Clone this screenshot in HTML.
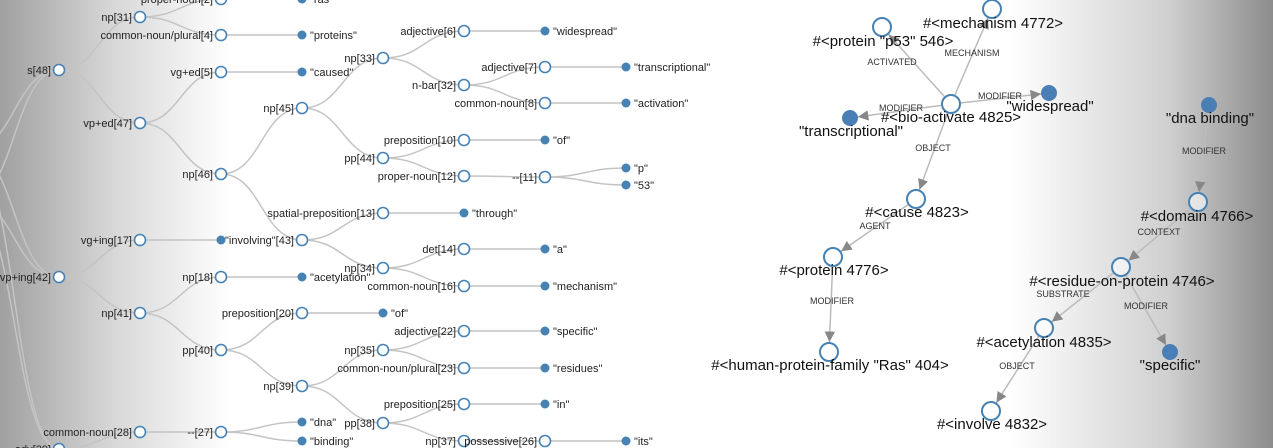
<!DOCTYPE html>
<html><head><meta charset="utf-8"><style>
html,body{margin:0;padding:0;width:1273px;height:448px;overflow:hidden;background:#fff}
svg{display:block}
text{font-family:"Liberation Sans",sans-serif;fill:#222}
.l{font-size:11px}
.b{font-size:15px;fill:#111}
.e{font-size:9px;fill:#333}
</style></head><body>
<svg id="s" width="1273" height="448" xmlns="http://www.w3.org/2000/svg">
<defs>
<linearGradient id="gl" x1="0" x2="1" y1="0" y2="0"><stop offset="0" stop-color="#a0a0a0"/><stop offset="0.5" stop-color="#d8d8d8"/><stop offset="1" stop-color="#fff"/></linearGradient>
<linearGradient id="gr" x1="0" x2="1" y1="0" y2="0"><stop offset="0" stop-color="#fff"/><stop offset="0.6" stop-color="#d0d0d0"/><stop offset="1" stop-color="#8c8c8c"/></linearGradient>
<marker id="ar" viewBox="0 0 10 10" refX="10" refY="5" markerWidth="7" markerHeight="7" orient="auto"><path d="M0,0L10,5L0,10z" fill="#888"/></marker>
</defs>
<rect x="0" y="0" width="230" height="448" fill="url(#gl)"/>
<rect x="1010" y="0" width="263" height="448" fill="url(#gr)"/>
<g id="t"></g>
<g id="g"></g>
</svg>
<script>
var NS="http://www.w3.org/2000/svg",t=document.getElementById('t'),g=document.getElementById('g');
function el(p,n,a,txt){var e=document.createElementNS(NS,n);for(var k in a)e.setAttribute(k,a[k]);if(txt!=null)e.textContent=txt;p.appendChild(e);return e;}
var N={
s48:[59,70,'s[48]'],np31:[140,17,'np[31]'],pn2:[221,-1,'proper-noun[2]'],cnp4:[221,35,'common-noun/plural[4]'],
vp47:[140,123,'vp+ed[47]'],vg5:[221,72,'vg+ed[5]'],np46:[221,174,'np[46]'],np45:[302,108,'np[45]'],inv43:[302,240,'"involving"[43]'],
np33:[383,58,'np[33]'],pp44:[383,158,'pp[44]'],adj6:[464,31,'adjective[6]'],nbar32:[464,85,'n-bar[32]'],adj7:[545,67,'adjective[7]'],cn8:[545,103,'common-noun[8]'],
prep10:[464,140,'preposition[10]'],pn12:[464,176,'proper-noun[12]'],d11:[545,177,'--[11]'],sp13:[383,213,'spatial-preposition[13]'],np34:[383,268,'np[34]'],
det14:[464,249,'det[14]'],cn16:[464,286,'common-noun[16]'],vp42:[59,277,'vp+ing[42]'],vg17:[140,240,'vg+ing[17]'],np41:[140,313,'np[41]'],np18:[221,277,'np[18]'],
pp40:[221,350,'pp[40]'],prep20:[302,313,'preposition[20]'],np39:[302,386,'np[39]'],np35:[383,350,'np[35]'],pp38:[383,423,'pp[38]'],adj22:[464,331,'adjective[22]'],
cnp23:[464,368,'common-noun/plural[23]'],prep25:[464,404,'preposition[25]'],np37:[464,441,'np[37]'],poss26:[545,441,'possessive[26]'],
cn28:[140,432,'common-noun[28]'],d27:[221,432,'--[27]'],x29:[59,449,'adv[29]']};
var L={ras:[302,-1,'"ras"'],proteins:[302,35,'"proteins"'],caused:[302,72,'"caused"'],wide:[545,31,'"widespread"'],trans:[626,67,'"transcriptional"'],act:[626,103,'"activation"'],
of1:[545,140,'"of"'],p:[626,168,'"p"'],f3:[626,185,'"53"'],thr:[464,213,'"through"'],a:[545,249,'"a"'],mech:[545,286,'"mechanism"'],invd:[221,240,''],
acet:[302,277,'"acetylation"'],of2:[383,313,'"of"'],spec:[545,331,'"specific"'],res:[545,368,'"residues"'],in_:[545,404,'"in"'],its:[626,441,'"its"'],dna:[302,422,'"dna"'],bind:[302,441,'"binding"']};
var E=[['s48','np31'],['s48','vp47'],['np31','pn2'],['np31','cnp4'],['pn2','ras'],['cnp4','proteins'],['vp47','vg5'],['vp47','np46'],['vg5','caused'],
['np46','np45'],['np46','inv43'],['np45','np33'],['np45','pp44'],['np33','adj6'],['np33','nbar32'],['adj6','wide'],['nbar32','adj7'],['nbar32','cn8'],['adj7','trans'],['cn8','act'],
['pp44','prep10'],['pp44','pn12'],['prep10','of1'],['pn12','d11'],['d11','p'],['d11','f3'],['inv43','sp13'],['inv43','np34'],['sp13','thr'],['np34','det14'],['np34','cn16'],
['det14','a'],['cn16','mech'],['vp42','vg17'],['vp42','np41'],['vg17','invd'],['np41','np18'],['np41','pp40'],['np18','acet'],['pp40','prep20'],['pp40','np39'],['prep20','of2'],
['np39','np35'],['np39','pp38'],['np35','adj22'],['np35','cnp23'],['adj22','spec'],['cnp23','res'],['pp38','prep25'],['pp38','np37'],['prep25','in_'],['np37','poss26'],['poss26','its'],
['cn28','d27'],['d27','dna'],['d27','bind'],['x29','cn28']];
function P(k){return N[k]||L[k];}
function link(a,b){var mx=(a[0]+b[0])/2;el(t,'path',{d:'M'+a[0]+','+a[1]+'C'+mx+','+a[1]+' '+mx+','+b[1]+' '+b[0]+','+b[1],fill:'none',stroke:'#c4c4c4','stroke-width':1.5});}
E.forEach(function(e){link(P(e[0]),P(e[1]));});
[[-30,150],[-30,200]].forEach(function(r){link(r,N.s48);link(r,N.vp42);link(r,N.x29);});
for(var k in N){var n=N[k];el(t,'circle',{cx:n[0],cy:n[1],r:5.5,fill:'#fff',stroke:'#4682b4','stroke-width':1.6});el(t,'text',{x:n[0]-8,y:n[1]+4,'text-anchor':'end','class':'l'},n[2]);}
for(var k in L){var n=L[k];el(t,'circle',{cx:n[0],cy:n[1],r:4.5,fill:'#4682b4'});if(n[2])el(t,'text',{x:n[0]+8,y:n[1]+4,'class':'l'},n[2]);}
var G={mech:[992,9,0],p53:[882,27,0],bio:[951,104,0],wide:[1049,93,1],trans:[850,118,1],dna:[1209,105,1],cause:[916,199,0],pr:[833,257,0],hum:[829,352,0],dom:[1198,202,0],
res:[1121,267,0],acet:[1044,328,0],spec:[1170,352,1],inv:[991,411,0]};
var GL=[['mech',993,28,'#<mechanism 4772>'],['p53',883,46,'#<protein "p53" 546>'],['bio',951,122,'#<bio-activate 4825>'],['wide',1050,111,'"widespread"'],['trans',851,136,'"transcriptional"'],
['dna',1210,123,'"dna binding"'],['cause',917,217,'#<cause 4823>'],['pr',834,275,'#<protein 4776>'],['hum',830,370,'#<human-protein-family "Ras" 404>'],['dom',1197,221,'#<domain 4766>'],
['res',1122,286,'#<residue-on-protein 4746>'],['acet',1044,347,'#<acetylation 4835>'],['spec',1170,370,'"specific"'],['inv',992,429,'#<involve 4832>']];
var GE=[['bio','p53','ACTIVATED',892,65],['bio','mech','MECHANISM',972,56],['bio','wide','MODIFIER',1000,99],['bio','trans','MODIFIER',901,111],['bio','cause','OBJECT',933,151],
['cause','pr','AGENT',875,229],['pr','hum','MODIFIER',832,304],['dna','dom','MODIFIER',1204,154],['dom','res','CONTEXT',1159,235],['res','acet','SUBSTRATE',1063,297],
['res','spec','MODIFIER',1146,309],['acet','inv','OBJECT',1017,369]];
GE.forEach(function(e){var a=G[e[0]],b=G[e[1]],dx=b[0]-a[0],dy=b[1]-a[1],d=Math.sqrt(dx*dx+dy*dy),rb=b[2]?8:10,ra=a[2]?8:10;
el(g,'line',{x1:a[0]+dx/d*ra,y1:a[1]+dy/d*ra,x2:b[0]-dx/d*rb,y2:b[1]-dy/d*rb,stroke:'#bbb','stroke-width':1.5,'marker-end':'url(#ar)'});
el(g,'text',{x:e[3],y:e[4],'text-anchor':'middle','class':'e'},e[2]);});
for(var k in G){var n=G[k];if(n[2])el(g,'circle',{cx:n[0],cy:n[1],r:8,fill:'#4a7fb5'});else el(g,'circle',{cx:n[0],cy:n[1],r:9,fill:'#fff','fill-opacity':0.6,stroke:'#4682b4','stroke-width':2});}
GL.forEach(function(l){el(g,'text',{x:l[1],y:l[2],'text-anchor':'middle','class':'b'},l[3]);});
</script>
</body></html>
